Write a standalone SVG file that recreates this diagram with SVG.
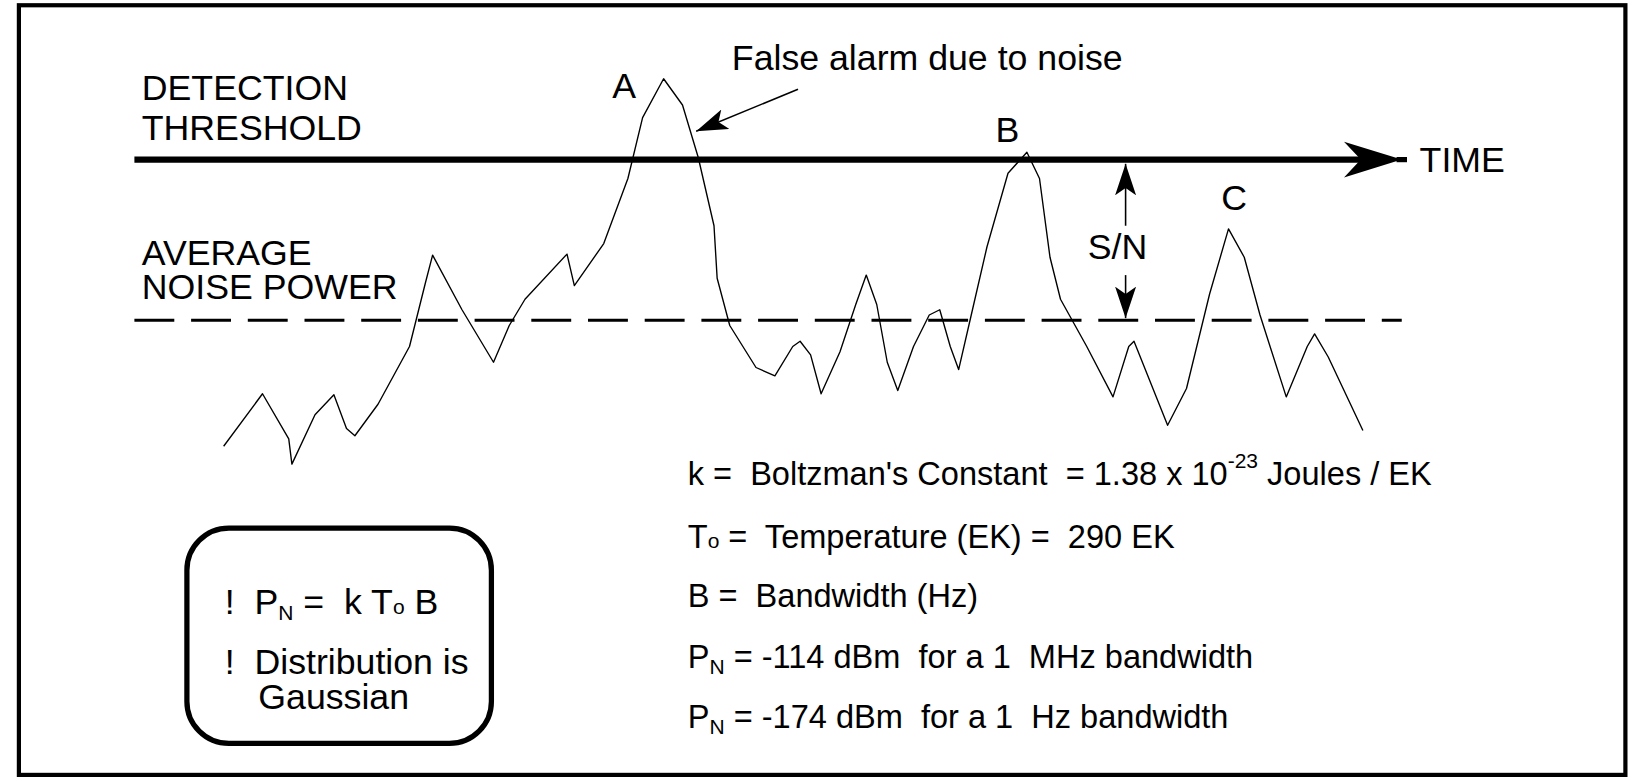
<svg xmlns="http://www.w3.org/2000/svg" width="1638" height="781" viewBox="0 0 1638 781">
<style>
text{font-family:"Liberation Sans",Arial,sans-serif;fill:#000;white-space:pre}
.l{font-size:34px}
.m{font-size:31px}
.s{font-size:20px}
</style>
<defs>
<marker id="ah" viewBox="0 0 30 20" refX="30" refY="10" markerWidth="30" markerHeight="20" markerUnits="userSpaceOnUse" orient="auto"><path d="M0,0 L30,10 L0,20 L7,10Z" fill="#000"/></marker>
</defs>
<rect width="1638" height="781" fill="#fff"/>
<g transform="scale(1.05)">
<rect x="18" y="5" width="1530" height="733" fill="none" stroke="#000" stroke-width="4"/>
<g id="connectors" fill="none" stroke="#000">
<line x1="128" y1="152" x2="1300" y2="152" stroke-width="6"/>
<path d="M1335,152 L1280,135 L1296,152 L1280,169Z" fill="#000" stroke="none"/>
<line x1="1330" y1="152" x2="1340" y2="152" stroke-width="5"/>
<line x1="128" y1="305" x2="1335" y2="305" stroke-width="3" stroke-dasharray="38,16"/>
<line x1="760" y1="85" x2="663" y2="125" stroke-width="1.5" marker-end="url(#ah)"/>
<line x1="1072" y1="215" x2="1072" y2="156" stroke-width="1.5" marker-end="url(#ah)"/>
<line x1="1072" y1="262" x2="1072" y2="303" stroke-width="1.5" marker-end="url(#ah)"/>
<polyline stroke-width="1.3" stroke-linejoin="round" points="213,425 250,375 275,418 278,442 300,395 318,376 330,408 338,415 360,385 390,330 405,270 412,243 440,295 470,345 485,310 500,285 540,242 547,272 575,232 598,170 612,112 632,75 650,100 665,150 680,215 683,265 695,310 720,350 738,358 755,330 762,325 772,338 782,375 800,335 815,290 825,262 835,290 845,345 855,372 870,330 885,300 895,295 905,330 913,352 925,300 940,235 960,165 978,145 990,170 1000,245 1010,285 1035,330 1060,378 1075,330 1080,325 1090,350 1112,405 1130,370 1152,280 1170,218 1185,245 1200,300 1225,378 1245,330 1252,318 1265,340 1298,410"/>
</g>
<g id="labels">
<text class="l" x="135" y="95">DETECTION</text>
<text class="l" x="135" y="133">THRESHOLD</text>
<text class="l" x="135" y="252">AVERAGE</text>
<text class="l" x="135" y="285">NOISE POWER</text>
<text class="l" x="1352" y="164">TIME</text>
<text class="l" x="583" y="93">A</text>
<text class="l" x="948" y="135">B</text>
<text class="l" x="1163" y="200">C</text>
<text class="l" x="697" y="67">False alarm due to noise</text>
<text class="l" x="1036" y="247">S/N</text>
</g>
<g id="box">
<rect x="178" y="503" width="290" height="205" rx="40" fill="none" stroke="#000" stroke-width="5"/>
<text class="l" x="214" y="585">!  P<tspan class="s" dy="5">N</tspan><tspan dy="-5"> =  k T</tspan><tspan class="s">o</tspan> B</text>
<text class="l" x="214" y="642">!  Distribution is</text>
<text class="l" x="246" y="675">Gaussian</text>
</g>
<g id="equations">
<text class="m" x="655" y="462">k =  Boltzman's Constant  = 1.38 x 10<tspan class="s" dy="-16">-23</tspan><tspan dy="16"> Joules / EK</tspan></text>
<text class="m" x="655" y="522">T<tspan class="s">o</tspan> =  Temperature (EK) =  290 EK</text>
<text class="m" x="655" y="578">B =  Bandwidth (Hz)</text>
<text class="m" x="655" y="636">P<tspan class="s" dy="6">N</tspan><tspan dy="-6"> = -114 dBm  for a 1  MHz bandwidth</tspan></text>
<text class="m" x="655" y="693">P<tspan class="s" dy="6">N</tspan><tspan dy="-6"> = -174 dBm  for a 1  Hz bandwidth</tspan></text>
</g>
</g>
</svg>
